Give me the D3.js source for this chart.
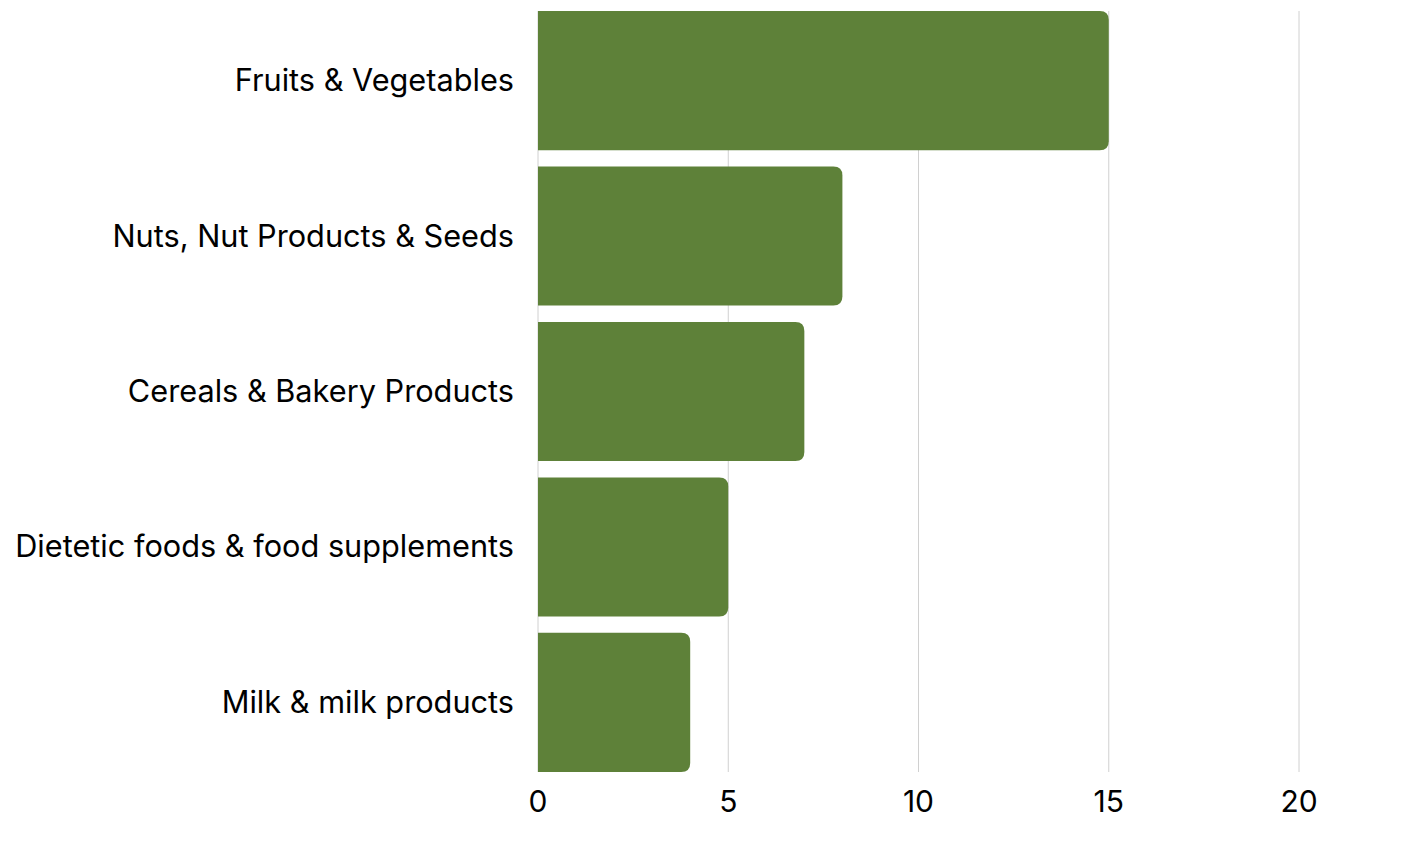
<!DOCTYPE html>
<html>
<head>
<meta charset="utf-8">
<script src="https://cdn.jsdelivr.net/npm/d3@7"></script>
<style>
  body { margin: 0; background: #fff; }
  svg text { font-family: Inter, "Noto Sans", sans-serif; fill: #000; }
</style>
</head>
<body>
<div id="chart"></div>
<script>
const categories = [
    'Fruits & Vegetables',
    'Nuts, Nut Products & Seeds',
    'Cereals & Bakery Products',
    'Dietetic foods & food supplements',
    'Milk & milk products'
];
const values = [15, 8, 7, 5, 4];
const xTicks = [0, 5, 10, 15, 20];

const W = 1424, H = 857;
const margin = { top: 11, right: 0, bottom: 85, left: 538 };
const BAR_COLOR = '#5e8139';

const svg = d3.select('#chart').append('svg')
    .attr('width', W)
    .attr('height', H);

// 38.05 px per unit, domain chosen so 20 lands at ~1299
const x = d3.scaleLinear()
    .domain([0, 23.5])
    .range([margin.left, margin.left + 23.5 * 38.05]);

const y = d3.scaleBand()
    .domain(categories)
    .range([margin.top, H - margin.bottom])
    .paddingInner(0.105)
    .paddingOuter(0);

// gridlines
svg.append('g')
    .selectAll('line')
    .data(xTicks)
    .join('line')
    .attr('x1', d => x(d)).attr('x2', d => x(d))
    .attr('y1', margin.top).attr('y2', H - margin.bottom)
    .attr('stroke', '#d0d0d0')
    .attr('stroke-width', 1);

// bars with rounded right end only
const r = 9;
function barPath(v, cat) {
    const x0 = x(0), x1 = x(v), y0 = y(cat), h = y.bandwidth();
    return `M${x0},${y0}H${x1 - r}Q${x1},${y0} ${x1},${y0 + r}` +
        `V${y0 + h - r}Q${x1},${y0 + h} ${x1 - r},${y0 + h}H${x0}Z`;
}

svg.append('g')
    .selectAll('path')
    .data(categories)
    .join('path')
    .attr('d', (c, i) => barPath(values[i], c))
    .attr('fill', BAR_COLOR);

// category labels
svg.append('g')
    .selectAll('text')
    .data(categories)
    .join('text')
    .attr('x', margin.left - 24)
    .attr('y', c => y(c) + y.bandwidth() / 2 - 1)
    .attr('text-anchor', 'end')
    .attr('dominant-baseline', 'central')
    .style('font-size', '30.7px')
    .text(c => c);

// x tick labels
svg.append('g')
    .selectAll('text')
    .data(xTicks)
    .join('text')
    .attr('x', d => x(d))
    .attr('y', H - margin.bottom + 29)
    .attr('text-anchor', 'middle')
    .attr('dominant-baseline', 'central')
    .style('font-size', '30px')
    .text(d => d);
</script>
</body>
</html>
